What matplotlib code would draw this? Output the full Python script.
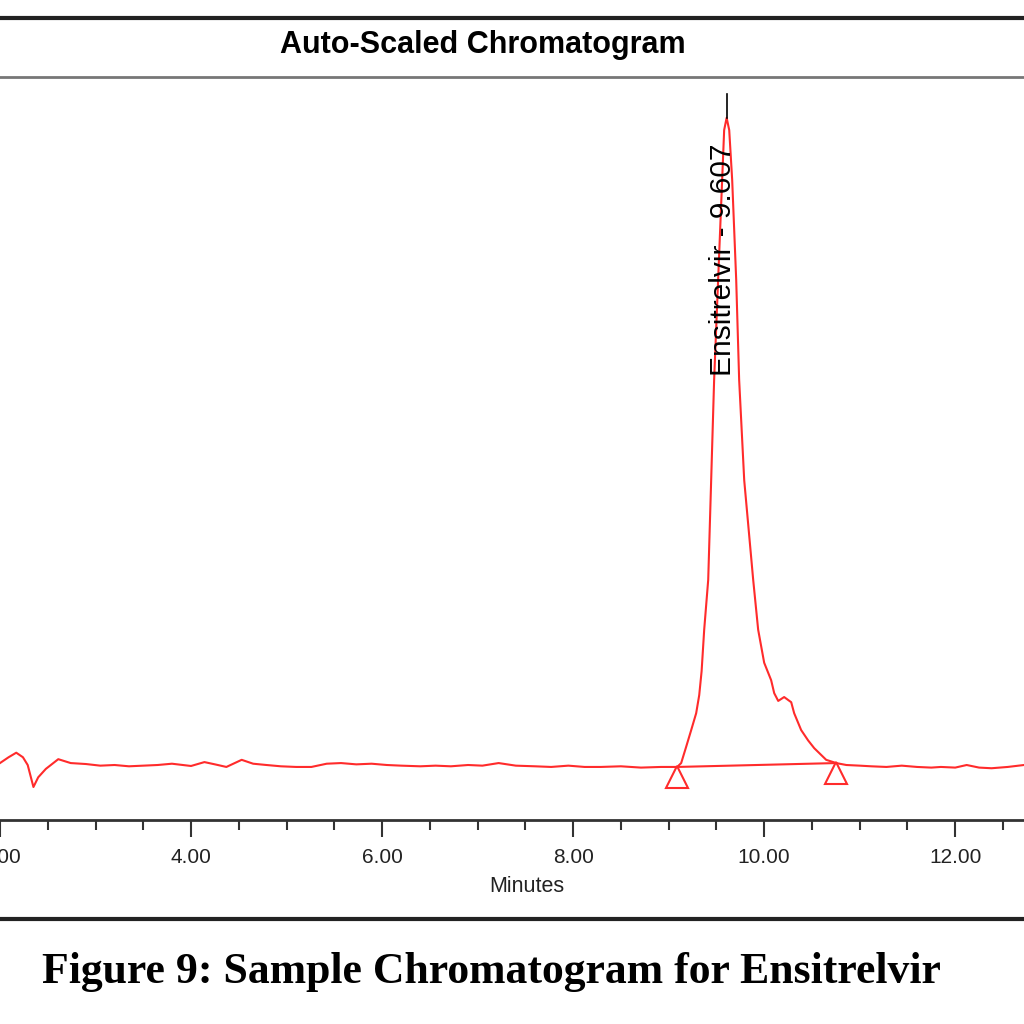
import matplotlib
matplotlib.use("Agg")
import matplotlib.pyplot as plt
import matplotlib.transforms as mtransforms
from matplotlib.lines import Line2D

# chromatogram trace (minutes, signal in arbitrary units)
time_min = [2.00, 2.09, 2.17, 2.24, 2.29, 2.35, 2.40, 2.48, 2.61, 2.74, 2.90,
            3.05, 3.20, 3.35, 3.50, 3.65, 3.80, 4.00, 4.14, 4.25, 4.37, 4.53,
            4.65, 4.79, 4.94, 5.10, 5.26, 5.42, 5.57, 5.73, 5.89, 6.05, 6.20,
            6.40, 6.56, 6.72, 6.90, 7.05, 7.22, 7.40, 7.60, 7.77, 7.95, 8.12,
            8.29, 8.50, 8.71, 8.92, 9.05, 9.09,
            9.131, 9.183, 9.236, 9.288, 9.320, 9.345, 9.372, 9.414, 9.445, 9.476,
            9.518, 9.560, 9.581, 9.607, 9.634, 9.665, 9.707, 9.738, 9.791,
            9.885, 9.937, 10.000, 10.073, 10.105, 10.147, 10.209, 10.283,
            10.314, 10.387, 10.460, 10.524, 10.649, 10.754, 10.86,
            11.00, 11.12, 11.28, 11.44, 11.60, 11.75, 11.85, 12.00, 12.12,
            12.25, 12.38, 12.55, 12.72]
signal = [0.3, 1.2, 1.9, 1.2, 0.0, -3.4, -1.9, -0.6, 0.9, 0.3, 0.15,
          -0.1, 0.0, -0.2, -0.1, 0.0, 0.2, -0.15, 0.45, 0.1, -0.3, 0.8,
          0.2, 0.0, -0.2, -0.3, -0.3, 0.2, 0.3, 0.1, 0.2, 0.0, -0.1,
          -0.2, -0.1, -0.2, 0.0, -0.1, 0.3, -0.1, -0.2, -0.3, -0.1, -0.3,
          -0.3, -0.2, -0.4, -0.3, -0.3, -0.3,
          0.3, 2.8, 5.4, 8.0, 10.8, 14.5, 20.9, 28.6, 44.0, 59.5,
          75.0, 90.4, 98.1, 100.0, 98.1, 90.4, 75.0, 59.5, 44.0,
          28.6, 20.9, 15.8, 13.1, 11.1, 9.9, 10.5, 9.7,
          8.0, 5.4, 3.8, 2.6, 0.8, 0.3, 0.0,
          -0.1, -0.2, -0.3, -0.1, -0.3, -0.4, -0.3, -0.4, 0.0,
          -0.4, -0.5, -0.3, 0.0]

peak_name = "Ensitrelvir"
peak_rt = 9.607
peak_height = 100.0
peak_start = (9.09, -0.3)
peak_end = (10.754, 0.3)

red = "#ff2b2b"
dark = "#333333"

fig = plt.figure(figsize=(10.24, 10.24), dpi=100)
ax = fig.add_axes([0.0, 0.1992, 1.0, 0.7256])

ax.plot(time_min, signal, color=red, lw=1.5)
# integration baseline and markers
ax.plot([peak_start[0], peak_end[0]], [peak_start[1], peak_end[1]], color=red, lw=1.5)
off = mtransforms.offset_copy(ax.transData, fig=fig, x=0, y=-10, units="dots")
ax.plot([peak_start[0], peak_end[0]], [peak_start[1], peak_end[1]], ls="none",
        marker="^", ms=16, mfc="none", mec=red, mew=1.5, transform=off)
# apex tick and label
ax.plot([peak_rt, peak_rt], [peak_height, peak_height + 3.7], color="black", lw=1.2)
ax.text(peak_rt - 0.04, 78.0, f"{peak_name} - {peak_rt:.3f}", rotation=90,
        ha="center", va="center", fontsize=21.5, family="Liberation Sans")

ax.set_xlim(2.0, 12.72)
ax.set_ylim(-8.5, 106.3)
ax.set_xticks([2, 4, 6, 8, 10, 12])
ax.set_xticks([x * 0.5 for x in range(4, 26)], minor=True)
ax.set_xticklabels(["2.00", "4.00", "6.00", "8.00", "10.00", "12.00"],
                   fontsize=15, family="Liberation Sans", color="#222222")
ax.tick_params(axis="x", which="major", length=12, width=1.5, color=dark, pad=8)
ax.tick_params(axis="x", which="minor", length=7, width=1.5, color=dark)
ax.set_yticks([])
for s in ["top", "left", "right"]:
    ax.spines[s].set_visible(False)
ax.spines["bottom"].set_color(dark)
ax.spines["bottom"].set_linewidth(2)

fig.text(527 / 1024, 1 - 886 / 1024, "Minutes", ha="center", va="center",
         fontsize=15.5, family="Liberation Sans", color="#222222")

# frame lines of the report panel
fig.add_artist(Line2D([0, 1], [1 - 18 / 1024] * 2, color="#222222", lw=3))
fig.add_artist(Line2D([0, 1], [1 - 77 / 1024] * 2, color="#777777", lw=2))
fig.add_artist(Line2D([0, 1], [1 - 919 / 1024] * 2, color="#222222", lw=3))

fig.text(483 / 1024, 1 - 45 / 1024, "Auto-Scaled Chromatogram", ha="center",
         va="center", fontsize=22, fontweight="bold", family="Liberation Sans")
fig.text(491 / 1024, 1 - 972 / 1024, "Figure 9: Sample Chromatogram for Ensitrelvir",
         ha="center", va="center", fontsize=31.5, fontweight="bold",
         family="Liberation Serif")

fig.savefig("out.png", dpi=100)
